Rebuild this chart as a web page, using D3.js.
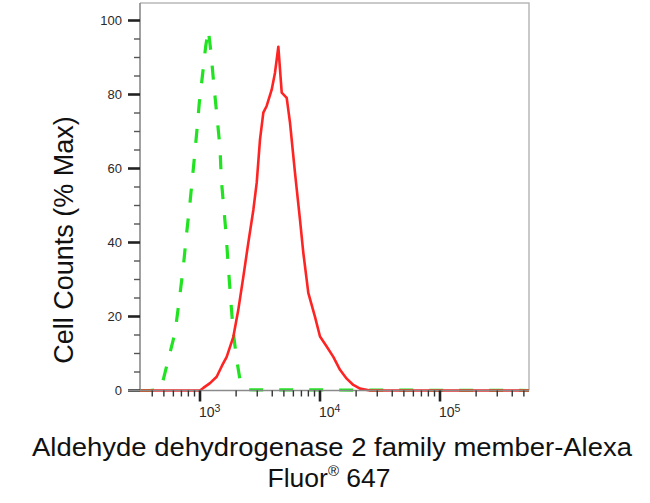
<!DOCTYPE html>
<html>
<head>
<meta charset="utf-8">
<script src="https://cdn.jsdelivr.net/npm/d3@7"></script>
<style>
  html, body { margin: 0; padding: 0; background: #fff; }
  svg { display: block; font-family: 'Liberation Sans', Arial, sans-serif; }
</style>
</head>
<body>
<div id="chart"></div>
<script>
// isotype control (green, dashed)
const controlX = [316, 383, 464, 494, 544, 619, 672, 726, 774, 825, 891, 939, 987, 1066, 1115, 1173,
    1235, 1309, 1394, 1468, 1506, 1565, 1647, 1722, 1803, 1896, 2023, 2154, 2448, 551000];
const controlY = [0, 0, 0.2, 2.9, 8.3, 15.6, 24.5, 33.4, 42.6, 50.7, 61.8, 69.7, 77.8, 87.2, 93, 97.5,
    91.3, 82.1, 73.2, 65.6, 57, 50.7, 42.6, 33.4, 24.5, 15.6, 8.3, 2.9, 0.2, 0];

// stained sample (red, solid)
const sampleX = [316, 1000, 1066, 1212, 1377, 1525, 1669, 1896, 2085, 2296, 2526, 2783, 2968, 3162, 3371,
    3594, 3958, 4217, 4497, 4797, 5279, 5623, 6190, 6813, 7262, 7990, 9085, 10000, 11366, 12915,
    14678, 16688, 18950, 21544, 26102, 551000];
const sampleY = [0, 0, 0.7, 2, 3.7, 6.7, 9.1, 14.5, 21.8, 30.7, 39.9, 48.8, 56.1, 67.8, 75.1,
    76.9, 81.3, 85.9, 92.9, 80.5, 79.1, 72.4, 58.8, 46.1, 37.2, 26.4, 19.9, 14.6, 11.9, 9.1,
    5.6, 3.2, 1.5, 0.5, 0, 0];

const yTicks = [0, 20, 40, 60, 80, 100];
const xDecades = [3, 4, 5];
const xTitle = 'Aldehyde dehydrogenase 2 family member-Alexa';
const yTitle = 'Cell Counts (% Max)';

const svgWidth = 650;
const svgHeight = 503;
const plot = { left: 140, right: 529, top: 3, bottom: 390.5 };

const svg = d3
    .select('#chart')
    .append('svg')
    .attr('width', svgWidth)
    .attr('height', svgHeight);

const x = d3
    .scaleLog()
    .domain([Math.pow(10, 2.5), Math.pow(10, 2.5 + (plot.right - plot.left) / 120)])
    .range([plot.left, plot.right]);

const y = d3.scaleLinear().domain([0, 100]).range([plot.bottom, 20.5]);

// frame (top + right, light)
svg.append('path')
    .attr('d', `M${plot.left},${plot.top}H${plot.right}V${plot.bottom}`)
    .attr('fill', 'none')
    .attr('stroke', '#b8b8b8')
    .attr('stroke-width', 1.5);

// curves
const line = d3.line().x(d => x(d[0])).y(d => y(d[1]));

svg.append('path')
    .datum(d3.zip(controlX, controlY))
    .attr('d', line)
    .attr('fill', 'none')
    .attr('stroke', '#22e322')
    .attr('stroke-width', 3.2)
    .attr('stroke-dasharray', '14,16');

svg.append('path')
    .datum(d3.zip(sampleX, sampleY))
    .attr('d', line)
    .attr('fill', 'none')
    .attr('stroke', '#ff2424')
    .attr('stroke-width', 2.6)
    .attr('stroke-linejoin', 'round');

// y axis
const yMinor = d3.range(0, 101, 5).filter(v => v % 20 !== 0);

const yAxis = svg.append('g').attr('class', 'y-axis');
yAxis.append('line')
    .attr('x1', plot.left).attr('x2', plot.left)
    .attr('y1', plot.top).attr('y2', plot.bottom)
    .attr('stroke', '#8a8a8a').attr('stroke-width', 1.6);

yAxis.selectAll('.minor')
    .data(yMinor)
    .enter()
    .append('line')
    .attr('class', 'minor')
    .attr('x1', plot.left - 6).attr('x2', plot.left)
    .attr('y1', d => y(d)).attr('y2', d => y(d))
    .attr('stroke', '#555').attr('stroke-width', 1.4);

yAxis.selectAll('.major')
    .data(yTicks)
    .enter()
    .append('line')
    .attr('class', 'major')
    .attr('x1', plot.left - 12).attr('x2', plot.left)
    .attr('y1', d => y(d)).attr('y2', d => y(d))
    .attr('stroke', '#222').attr('stroke-width', 2.6);

yAxis.selectAll('text')
    .data(yTicks)
    .enter()
    .append('text')
    .attr('x', 122)
    .attr('y', d => y(d))
    .attr('dy', '0.35em')
    .attr('text-anchor', 'end')
    .attr('font-size', 13)
    .attr('fill', '#2a2a2a')
    .text(d => d);

// x axis
const [d0, d1] = x.domain();
const xMinor = [];
for (let e = 2; e <= 5; e++) {
    for (let k = 2; k <= 9; k++) {
        const v = k * Math.pow(10, e);
        if (v >= d0 && v <= d1) xMinor.push(v);
    }
}

const xAxis = svg.append('g').attr('class', 'x-axis');
xAxis.append('line')
    .attr('x1', plot.left - 12).attr('x2', plot.right)
    .attr('y1', plot.bottom).attr('y2', plot.bottom)
    .attr('stroke', '#8a8a8a').attr('stroke-width', 1.6);

xAxis.selectAll('.minor')
    .data(xMinor)
    .enter()
    .append('line')
    .attr('class', 'minor')
    .attr('x1', d => x(d)).attr('x2', d => x(d))
    .attr('y1', plot.bottom).attr('y2', plot.bottom + 6)
    .attr('stroke', '#333').attr('stroke-width', 1.4);

xAxis.selectAll('.major')
    .data(xDecades)
    .enter()
    .append('line')
    .attr('class', 'major')
    .attr('x1', d => x(Math.pow(10, d))).attr('x2', d => x(Math.pow(10, d)))
    .attr('y1', plot.bottom).attr('y2', plot.bottom + 11)
    .attr('stroke', '#222').attr('stroke-width', 2.6);

const xLabels = xAxis.selectAll('text')
    .data(xDecades)
    .enter()
    .append('text')
    .attr('x', d => x(Math.pow(10, d)) - 1)
    .attr('y', 417)
    .attr('font-size', 14)
    .attr('fill', '#2a2a2a');
xLabels.append('tspan').text('10');
xLabels.append('tspan')
    .attr('font-size', 10.5)
    .attr('dy', -5)
    .text(d => d);

// axis titles
svg.append('text')
    .attr('transform', 'translate(73,240) rotate(-90)')
    .attr('text-anchor', 'middle')
    .attr('font-size', 27)
    .attr('fill', '#111')
    .text(yTitle);

svg.append('text')
    .attr('x', 332)
    .attr('y', 456)
    .attr('text-anchor', 'middle')
    .attr('font-size', 26.5)
    .attr('textLength', 600)
    .attr('lengthAdjust', 'spacingAndGlyphs')
    .attr('fill', '#111')
    .text(xTitle);

const line2 = svg.append('text')
    .attr('x', 329)
    .attr('y', 487)
    .attr('text-anchor', 'middle')
    .attr('font-size', 26.5)
    .attr('fill', '#111');
line2.append('tspan').text('Fluor');
line2.append('tspan').attr('font-size', 15).attr('dy', -11).text('®');
line2.append('tspan').attr('dy', 11).text(' 647');
</script>
</body>
</html>
